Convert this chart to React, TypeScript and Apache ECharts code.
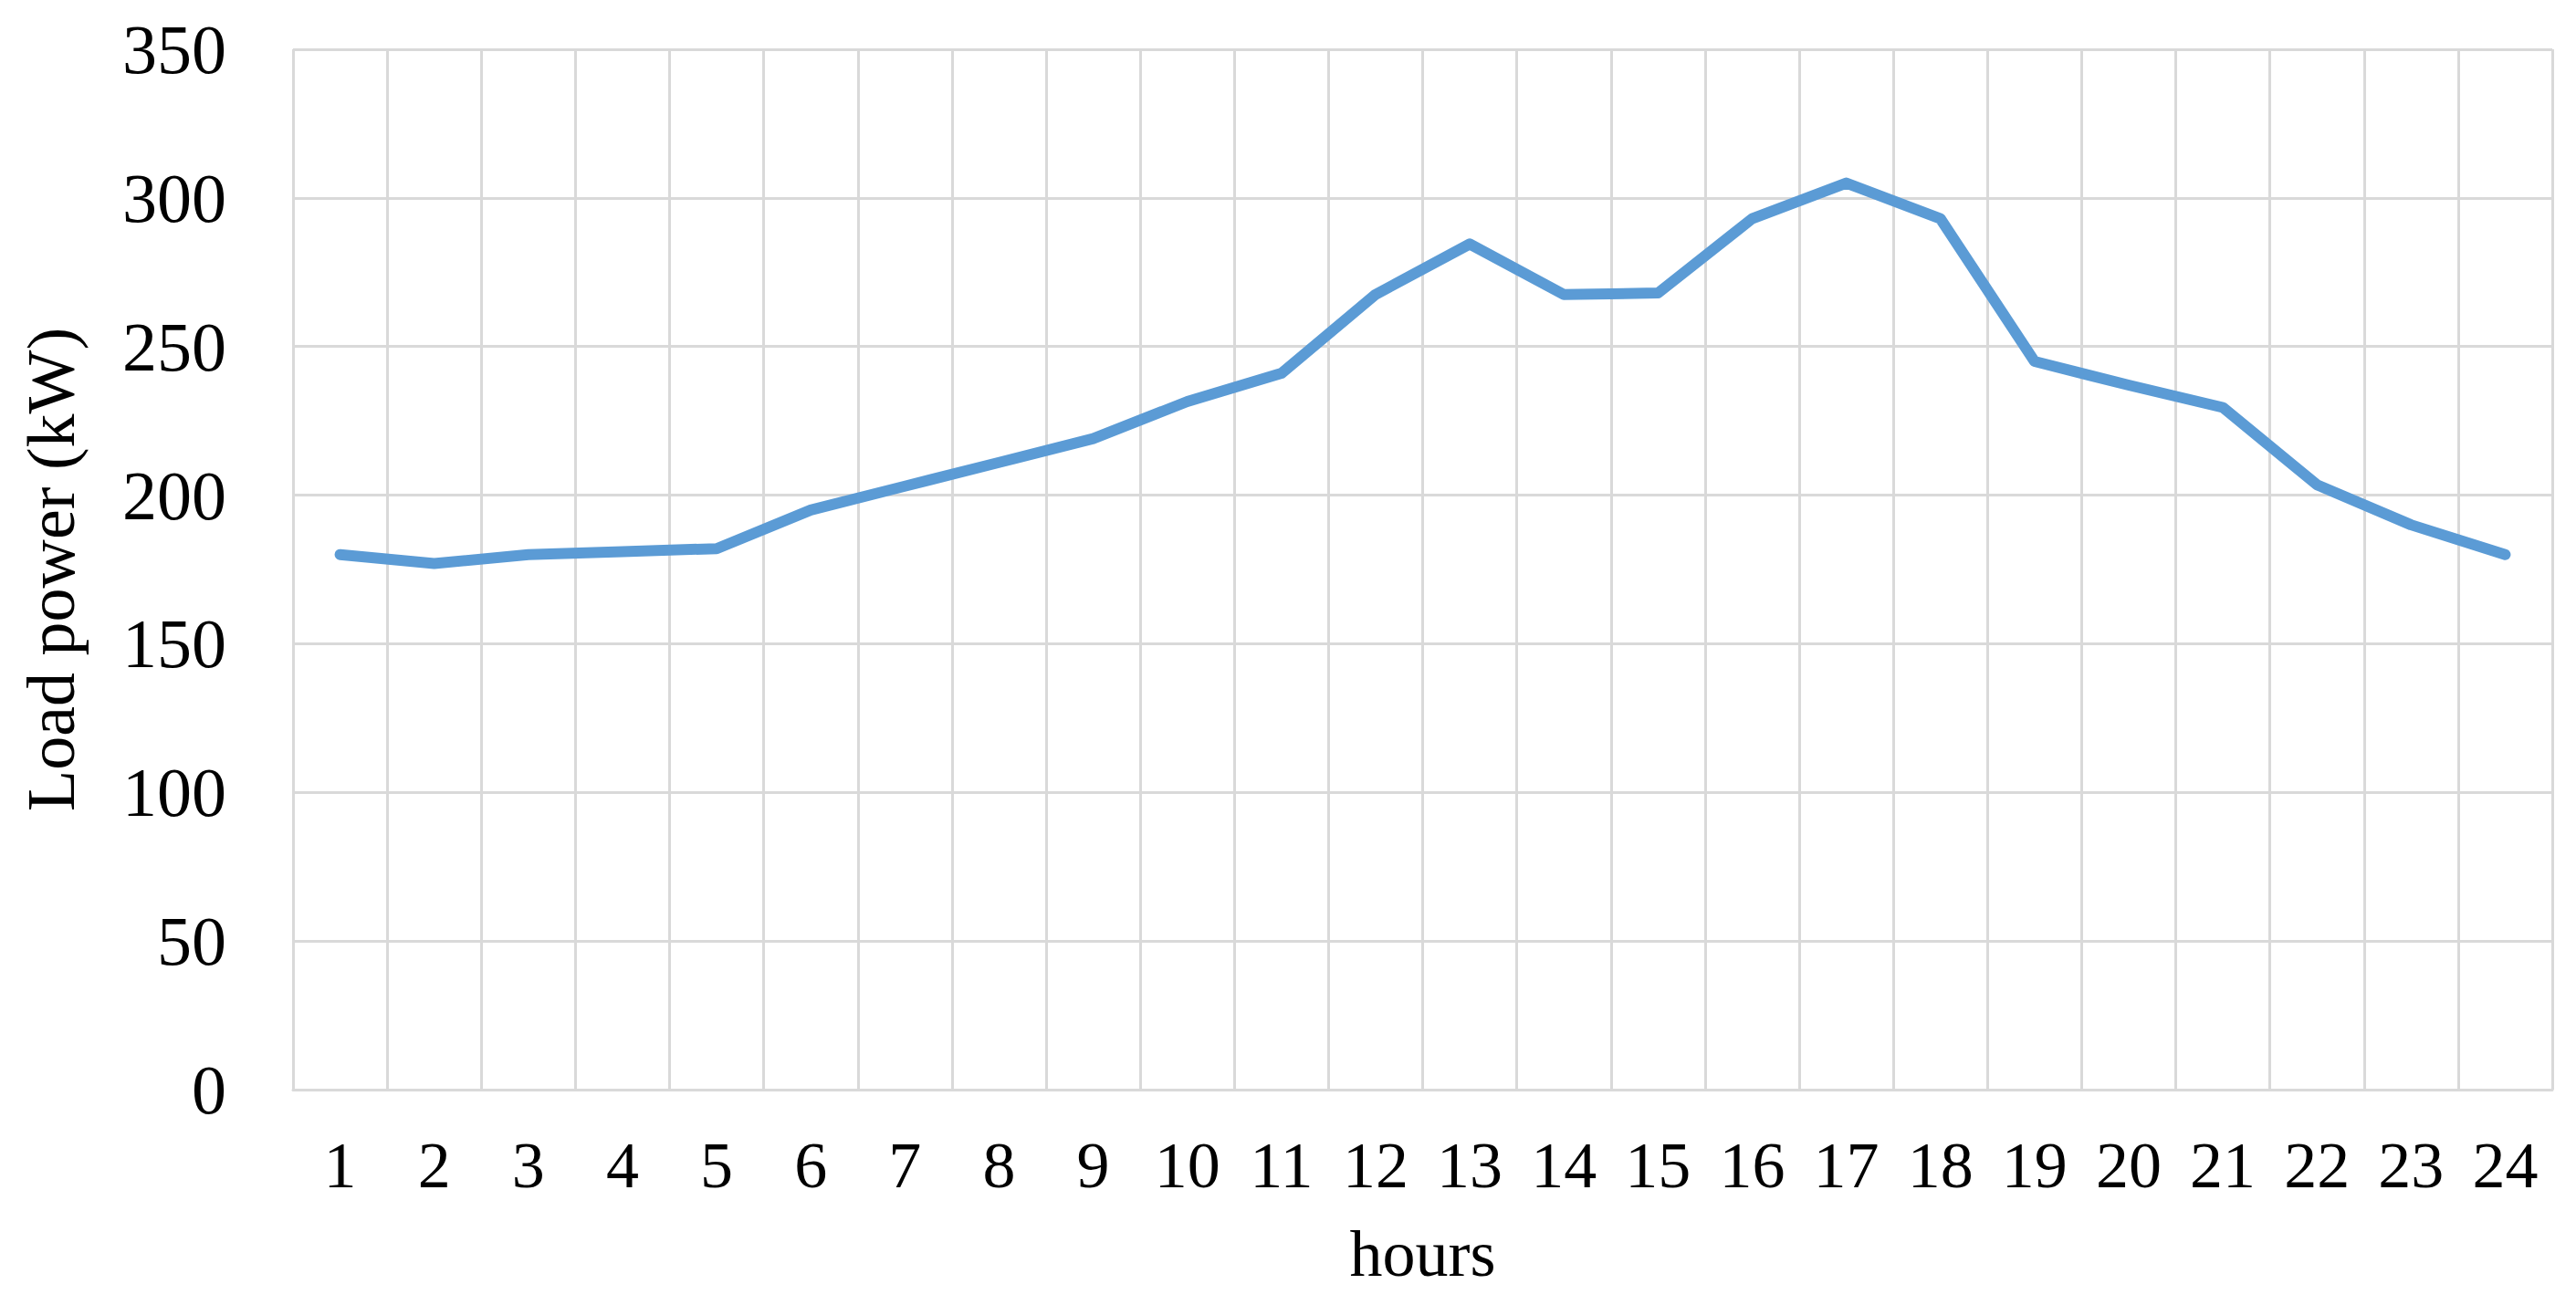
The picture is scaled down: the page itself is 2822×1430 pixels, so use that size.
import React, { useEffect, useRef } from "react";
import * as echarts from "echarts";

const hours = [
  "1", "2", "3", "4", "5", "6", "7", "8", "9", "10", "11", "12",
  "13", "14", "15", "16", "17", "18", "19", "20", "21", "22", "23", "24",
];
const loadPower = [
  180, 177, 180, 181, 182, 195, 203, 211, 219, 231.5, 241, 267.5,
  284.5, 267.5, 268, 293, 305, 293, 245, 237, 229.5, 203.5, 190, 180,
];
const yTicks = { min: 0, max: 350, interval: 50 };

const FONT = "'Liberation Serif', 'Times New Roman', serif";
const GRID = "#d9d9d9";

export default function App() {
  const ref = useRef<HTMLDivElement>(null);
  useEffect(() => {
    if (!ref.current) return;
    const chart = echarts.init(ref.current, undefined, { renderer: "svg" });
    chart.setOption({
      animation: false,
      backgroundColor: "#ffffff",
      grid: { left: 321, right: 26, top: 54, bottom: 236, containLabel: false },
      xAxis: {
        type: "category",
        data: hours,
        boundaryGap: true,
        name: "hours",
        nameLocation: "middle",
        nameGap: 144,
        nameTextStyle: { fontFamily: FONT, fontSize: 72, color: "#000" },
        axisLine: { show: true, lineStyle: { color: GRID, width: 3 } },
        axisTick: { show: false },
        axisLabel: {
          fontFamily: FONT,
          fontSize: 72,
          color: "#000",
          margin: 47,
          interval: 0,
        },
        splitLine: { show: true, lineStyle: { color: GRID, width: 3 } },
      },
      yAxis: {
        type: "value",
        min: yTicks.min,
        max: yTicks.max,
        interval: yTicks.interval,
        name: "Load power (kW)",
        nameLocation: "middle",
        nameGap: 228,
        nameTextStyle: { fontFamily: FONT, fontSize: 74, color: "#000" },
        axisLine: { show: false },
        axisTick: { show: false },
        axisLabel: { fontFamily: FONT, fontSize: 76, color: "#000", margin: 73 },
        splitLine: { show: true, lineStyle: { color: GRID, width: 3 } },
      },
      series: [
        {
          type: "line",
          data: loadPower,
          showSymbol: false,
          symbol: "none",
          lineStyle: { color: "#5b9bd5", width: 12, cap: "round", join: "round" },
          itemStyle: { color: "#5b9bd5" },
        },
      ],
    });
    return () => chart.dispose();
  }, []);
  return (
    <div
      ref={ref}
      style={{ position: "fixed", left: 0, top: 0, width: 2822, height: 1430, background: "#fff" }}
    />
  );
}
